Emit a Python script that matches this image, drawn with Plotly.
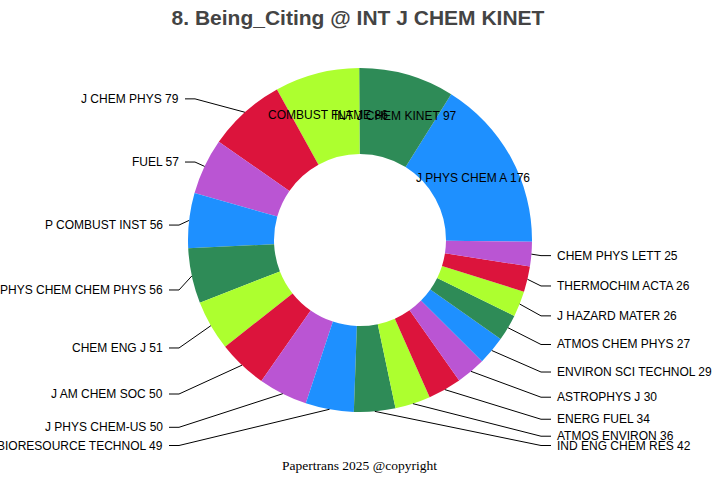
import math
import plotly.graph_objects as go

# citing journals, largest first (drawn counter-clockwise)
journals = [
    "J PHYS CHEM A", "INT J CHEM KINET", "COMBUST FLAME", "J CHEM PHYS", "FUEL",
    "P COMBUST INST", "PHYS CHEM CHEM PHYS", "CHEM ENG J", "J AM CHEM SOC", "J PHYS CHEM-US",
    "BIORESOURCE TECHNOL", "IND ENG CHEM RES", "ATMOS ENVIRON", "ENERG FUEL", "ASTROPHYS J",
    "ENVIRON SCI TECHNOL", "ATMOS CHEM PHYS", "J HAZARD MATER", "THERMOCHIM ACTA", "CHEM PHYS LETT",
]
counts = [176, 97, 86, 79, 57, 56, 56, 51, 50, 50, 49, 42, 36, 34, 30, 29, 27, 26, 26, 25]
palette = ["#1E90FF", "#2E8B57", "#ADFF2F", "#DC143C", "#BA55D3"]

W, H = 720, 480
M_L, M_R, M_T, M_B = 80, 80, 68, 68
HOLE = 0.5
ROTATION = 32
INSIDE_SHARE = 0.075   # slices bigger than this get their label inside

colors = [palette[i % len(palette)] for i in range(len(journals))]
total = sum(counts)

# pie geometry in pixels (plotly fits the pie into the plot area)
pw, ph = W - M_L - M_R, H - M_T - M_B
cx, cy = M_L + pw / 2, M_T + ph / 2
R = min(pw, ph) / 2


def to_paper(px, py):
    return (px - M_L) / pw, (H - M_B - py) / ph


# mid angle of every slice, degrees clockwise from 12 o'clock
mids = []
edge = ROTATION + counts[0] / total * 360
for v in counts:
    a = v / total * 360
    mids.append((edge - a / 2) % 360)
    edge -= a

annotations = []
shapes = []
label_font = dict(family="Arial", size=12, color="black")

# inside labels, horizontal, at the middle of the ring
ring_mid = R * (1 + HOLE) / 2
outside = {"left": [], "right": []}
for i, (name, v, m) in enumerate(zip(journals, counts, mids)):
    rad = math.radians(m)
    if v / total > INSIDE_SHARE:
        x, y = to_paper(cx + ring_mid * math.sin(rad), cy - ring_mid * math.cos(rad))
        annotations.append(dict(text=f"{name} {v}", x=x, y=y, xref="paper", yref="paper",
                                showarrow=False, xanchor="center", yanchor="middle", font=label_font))
    else:
        outside["left" if math.sin(rad) < 0 else "right"].append(i)

# outside labels: spread each side from its top label down to the bottom row
BOTTOM_Y = 445.5
NATURAL_R = 190
for side, idx in outside.items():
    idx = sorted(idx, key=lambda i: -math.cos(math.radians(mids[i])))
    nat = [cy - NATURAL_R * math.cos(math.radians(mids[i])) for i in idx]
    top, bot = nat[0], nat[-1]
    scale = (BOTTOM_Y - top) / (bot - top) if bot > top else 1
    sgn = -1 if side == "left" else 1
    for i, ny in zip(idx, nat):
        ly = top + (ny - top) * scale
        rad = math.radians(mids[i])
        ex, ey = cx + R * math.sin(rad), cy - R * math.cos(rad)
        edge_dist = abs(ex - cx)
        elbow = 181
        if ly < cy and edge_dist < 165:
            elbow = 165
        elbow = max(elbow, edge_dist + 2)
        end = elbow + 10
        p0 = to_paper(ex, ey)
        p1 = to_paper(cx + sgn * elbow, ly)
        p2 = to_paper(cx + sgn * end, ly)
        shapes.append(dict(type="path", xref="paper", yref="paper",
                           path=f"M {p0[0]},{p0[1]} L {p1[0]},{p1[1]} L {p2[0]},{p2[1]}",
                           line=dict(color="black", width=1)))
        tx, ty = to_paper(cx + sgn * (end + 4), ly)
        annotations.append(dict(text=f"{journals[i]} {counts[i]}", x=tx, y=ty,
                                xref="paper", yref="paper", showarrow=False,
                                xanchor="right" if side == "left" else "left", yanchor="middle",
                                font=label_font))

fx, fy = to_paper(359, 465)
annotations.append(dict(text="Papertrans 2025 @copyright", x=fx, y=fy, xref="paper", yref="paper",
                        showarrow=False, xanchor="center", yanchor="middle",
                        font=dict(family="Times New Roman", size=13.5, color="black")))

fig = go.Figure(go.Pie(
    labels=journals,
    values=counts,
    hole=HOLE,
    sort=False,
    direction="counterclockwise",
    rotation=ROTATION,
    marker=dict(colors=colors),
    textinfo="none",
    hoverinfo="label+value+percent",
    showlegend=False,
))

fig.update_layout(
    width=W, height=H,
    title=dict(text="<b>8. Being_Citing @ INT J CHEM KINET</b>", x=358 / W, xanchor="center",
               y=1 - 18 / H, yanchor="middle",
               font=dict(family="Arial", size=21, color="#444444")),
    margin=dict(l=M_L, r=M_R, t=M_T, b=M_B),
    paper_bgcolor="white",
    annotations=annotations,
    shapes=shapes,
)

# the chart fills the window, so drop the page's default body margin
fig.write_html("out.html", config={"displayModeBar": False},
               post_script="document.body.style.margin = '0';")
